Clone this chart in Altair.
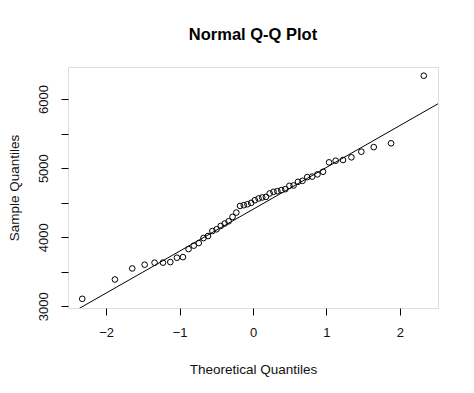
import altair as alt
import pandas as pd
import numpy as np

# Theoretical quantiles (n = 50)
theoretical = [-2.3263, -1.8808, -1.6449, -1.4758, -1.3408, -1.2265, -1.1264, -1.0364,
               -0.9542, -0.8779, -0.8064, -0.7388, -0.6745, -0.6128, -0.5534, -0.4959,
               -0.4399, -0.3853, -0.3319, -0.2793, -0.2275, -0.1764, -0.1257, -0.0753,
               -0.0251, 0.0251, 0.0753, 0.1257, 0.1764, 0.2275, 0.2793, 0.3319, 0.3853,
               0.4399, 0.4959, 0.5534, 0.6128, 0.6745, 0.7388, 0.8064, 0.8779, 0.9542,
               1.0364, 1.1264, 1.2265, 1.3408, 1.4758, 1.6449, 1.8808, 2.3263]

# Sample quantiles (sorted)
sample = [3108, 3388, 3548, 3602, 3631, 3632, 3640, 3703, 3712, 3828,
          3878, 3916, 3988, 4017, 4090, 4115, 4163, 4198, 4231, 4294,
          4357, 4453, 4464, 4478, 4497, 4536, 4561, 4576, 4584, 4634,
          4657, 4667, 4682, 4696, 4744, 4750, 4802, 4817, 4870, 4878,
          4910, 4948, 5084, 5108, 5118, 5157, 5238, 5305, 5360, 6339]

x_ticks = [-2, -1, 0, 1, 2]
y_ticks = [3000, 3500, 4000, 4500, 5000, 5500, 6000]

pts = pd.DataFrame({"x": theoretical, "y": sample})

# qqline: through the first and third quartiles
q1, q3 = np.percentile(sample, [25, 75])
z1, z3 = -0.6745, 0.6745
slope = (q3 - q1) / (z3 - z1)
icpt = q1 - slope * z1
line_x = [-2.6, 2.6]
line_df = pd.DataFrame({"x": line_x, "y": [icpt + slope * v for v in line_x]})

FONT = "Liberation Sans"
xscale = alt.Scale(domain=[-2.52, 2.52], nice=False, zero=False)
yscale = alt.Scale(domain=[2975, 6465], nice=False, zero=False)

xaxis = alt.Axis(title="Theoretical Quantiles", values=x_ticks, format="d", domain=False,
                 grid=False, tickColor="black", tickSize=7, labelFontSize=13,
                 labelFont=FONT, labelColor="#111", labelPadding=11, titleFont=FONT,
                 titleFontSize=13.5, titleFontWeight="normal", titleColor="#111",
                 titlePadding=23, labelFlush=False)
yaxis = alt.Axis(title="Sample Quantiles", values=y_ticks, format="d", domain=False,
                 grid=False, tickColor="black", tickSize=7, labelFontSize=13,
                 labelFont=FONT, labelColor="#111", labelAngle=-90, labelAlign="center",
                 labelBaseline="bottom", labelPadding=11,
                 labelExpr="datum.value % 1000 == 0 ? datum.label : ''",
                 titleFont=FONT, titleFontSize=13.5, titleFontWeight="normal",
                 titleColor="#111", titlePadding=16, labelFlush=False)

points = alt.Chart(pts).mark_point(shape="circle", filled=False, color="black",
                                   size=32, strokeWidth=1, opacity=1).encode(
    x=alt.X("x:Q", scale=xscale, axis=xaxis),
    y=alt.Y("y:Q", scale=yscale, axis=yaxis),
)

qqline = alt.Chart(line_df).mark_line(color="black", strokeWidth=1, clip=True).encode(
    x=alt.X("x:Q", scale=xscale),
    y=alt.Y("y:Q", scale=yscale),
)

chart = alt.layer(points, qqline).properties(
    width=370, height=241,
    title=alt.TitleParams("Normal Q-Q Plot", font=FONT, fontSize=16.5, fontWeight="bold",
                          color="black", anchor="middle", offset=24),
    autosize=alt.AutoSizeParams(type="none"),
    padding={"left": 68, "top": 67, "right": 36, "bottom": 85},
).configure_view(stroke="black", strokeWidth=1).configure(background="white")

chart.save("out.html", embed_options={"renderer": "svg", "actions": False})
